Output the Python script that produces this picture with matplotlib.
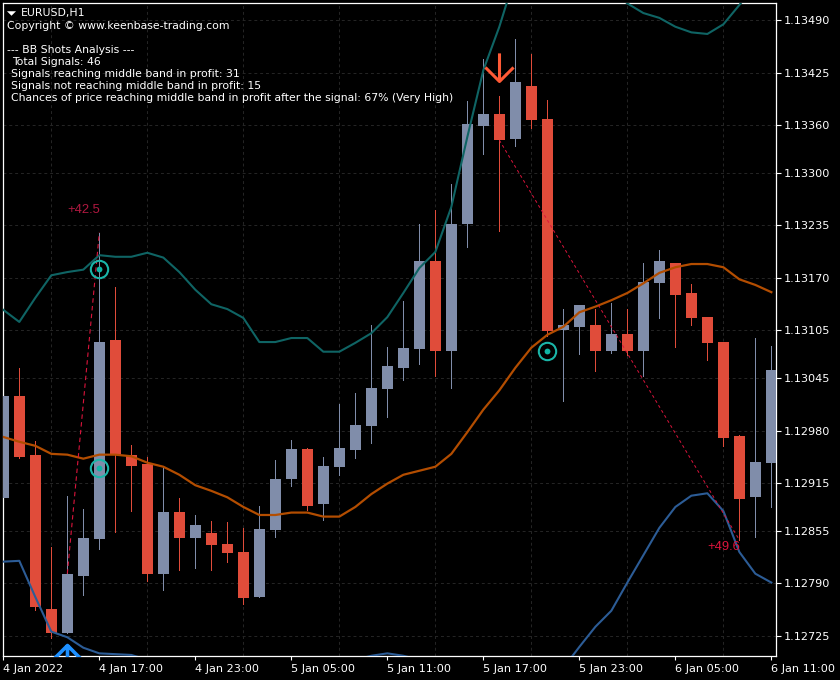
import numpy as np
import matplotlib
matplotlib.use("Agg")
import matplotlib.pyplot as plt
from matplotlib.path import Path

nan = float("nan")

opens = [112896,113023,112950,112758,112728,112799,112845,113093,112950,112938,112802,112879,112846,112853,112839,112829,112773,112856,112920,112957,112889,112935,112956,112986,113032,113058,113081,113191,113079,113237,113359,113374,113342,113408,113367,113105,113109,113111,113079,113100,113079,113163,113188,113151,113121,113090,112973,112897,112940]
closes = [113023,112947,112761,112728,112802,112846,113090,112950,112936,112802,112879,112846,112863,112838,112828,112772,112858,112920,112957,112886,112936,112958,112987,113033,113060,113083,113191,113079,113237,113361,113374,113341,113413,113366,113104,113111,113136,113079,113100,113079,113165,113191,113149,113120,113089,112971,112895,112941,113055]
highs = [113081,113058,112967,112835,112899,112883,113226,113158,112962,112947,112933,112896,112875,112868,112866,112859,112886,112943,112968,112958,112947,113013,113027,113111,113084,113141,113237,113254,113287,113390,113442,113396,113467,113448,113391,113131,113136,113131,113139,113131,113188,113204,113188,113162,113121,113090,112974,113095,113085]
lows = [112829,112946,112757,112722,112728,112776,112833,112854,112880,112793,112782,112807,112809,112807,112817,112764,112773,112848,112911,112881,112869,112925,112946,112965,112997,113043,113063,113048,113033,113208,113324,113228,113334,113356,113098,113017,113075,113054,113076,113074,113048,113120,113084,113111,113068,112961,112844,112848,112885]

upper_band = [113130,113115,113145,113173,113177,113180,113198,113196,113196,113201,113195,113177,113155,113137,113131,113120,113090,113090,113095,113095,113078,113078,113089,113101,113121,113151,113182,113202,113258,113345,113428,113482,113546,nan,nan,nan,nan,nan,113528,113511,113499,113493,113482,113475,113473,113485,113509,113534,113552]
middle_band = [112972,112966,112961,112951,112950,112945,112950,112950,112948,112940,112935,112925,112912,112905,112897,112885,112875,112875,112878,112878,112873,112873,112885,112901,112914,112925,112930,112935,112951,112978,113006,113030,113058,113083,113099,113109,113127,113134,113142,113151,113163,113176,113183,113187,113187,113183,113168,113161,113152]
lower_band = [112817,112818,112773,112730,112723,112710,112703,112702,112701,112695,nan,nan,nan,nan,nan,nan,nan,nan,nan,nan,nan,nan,112695,112700,112703,112700,112695,nan,nan,nan,nan,nan,nan,nan,nan,112685,112711,112736,112756,112791,112825,112859,112885,112899,112902,112880,112829,112802,112791]

y_ticks = [1.13490,1.13425,1.13360,1.13300,1.13235,1.13170,1.13105,1.13045,1.12980,1.12915,1.12855,1.12790,1.12725]
x_tick_bars = [0,6,12,18,24,30,36,42,48]
x_tick_labels = ["4 Jan 2022","4 Jan 17:00","4 Jan 23:00","5 Jan 05:00","5 Jan 11:00","5 Jan 17:00","5 Jan 23:00","6 Jan 05:00","6 Jan 11:00"]

info_lines = [
    ("Copyright \u00a9 www.keenbase-trading.com", 7, 26),
    ("--- BB Shots Analysis ---", 7, 50),
    ("Total Signals: 46", 12, 62),
    ("Signals reaching middle band in profit: 31", 11, 74),
    ("Signals not reaching middle band in profit: 15", 11, 86),
    ("Chances of price reaching middle band in profit after the signal: 67% (Very High)", 11, 98),
]

trade_buy_x = [4, 6]
trade_buy_y = [1.12802, 1.13226]
trade_sell_x = [31, 46]
trade_sell_y = [1.13341, 1.12844]
ring_x = [6, 6, 34]
ring_y = [1.13181, 1.12933, 1.13079]

GRAY = "#808DAA"
RED = "#E04C3A"
WIDTH, HEIGHT = 840, 680

def prices(values):
    return np.array(values, dtype=float) / 1e5

o, c, h, l = map(prices, (opens, closes, highs, lows))
bars = np.arange(len(o))
up = c >= o
colors = [GRAY if u else RED for u in up]

plt.rcParams["font.family"] = ["DejaVu Sans"]
fig = plt.figure(figsize=(WIDTH / 100, HEIGHT / 100), dpi=100, facecolor="black")
ax = fig.add_axes([3 / WIDTH, 1 - 656 / HEIGHT, 773 / WIDTH, 653 / HEIGHT], facecolor="black")

ax.vlines(bars, l, h, colors=colors, linewidth=0.45, antialiased=False, zorder=2)
ax.bar(bars, np.abs(c - o), bottom=np.minimum(o, c), width=0.6875, color=colors, linewidth=0, antialiased=False, zorder=3)

ax.plot(bars, prices(upper_band), color="#0F6464", lw=1.5, zorder=4)
ax.plot(bars, prices(middle_band), color="#B34D00", lw=1.6, zorder=4)
ax.plot(bars, prices(lower_band), color="#2C5C96", lw=1.5, zorder=4)

ax.plot(trade_buy_x, trade_buy_y, color="#DC143C", lw=0.8, ls=(0, (4, 3)), zorder=5)
ax.plot(trade_sell_x, trade_sell_y, color="#DC143C", lw=0.7, ls=(0, (3, 3)), zorder=5)

ax.plot(ring_x, ring_y, ls="none", marker="o", ms=12.5, mfc="none", mec="#1AB5A8", mew=1.5, zorder=6)
ax.plot(ring_x, ring_y, ls="none", marker="o", ms=4.2, mfc="#0FB5A5", mec="none", zorder=6)

down_arrow = Path([(-1, 1), (0, 0), (1, 1), (0, 0), (0, 2)],
                  [Path.MOVETO, Path.LINETO, Path.LINETO, Path.MOVETO, Path.LINETO])
up_arrow = Path([(-1, -1), (0, 0), (1, -1), (0, 0), (0, -2)],
                [Path.MOVETO, Path.LINETO, Path.LINETO, Path.MOVETO, Path.LINETO])
ax.plot([31], [1.13414], ls="none", marker=down_arrow, ms=40.5, mfc="none", mec="#FF5A36", mew=2.2, zorder=7)
ax.plot([4], [1.12713], ls="none", marker=up_arrow, ms=40.5, mfc="none", mec="#1E90FF", mew=2.6, zorder=7)

ax.text(5.0, 1.13254, "+42.5", color="#B01840", family="Liberation Sans", fontsize=9.4, va="center", ha="center", zorder=8)
ax.text(45.05, 1.12835, "+49.6", color="#DC143C", family="Liberation Sans", fontsize=9.4, va="center", ha="center", zorder=8)

ax.set_xlim(-0.02, 48.29)
ax.set_ylim(1.126997, 1.135115)

ax.set_yticks(y_ticks)
ax.set_yticklabels([f"{v:.5f}" for v in y_ticks])
ax.yaxis.tick_right()
ax.set_xticks(x_tick_bars)
ax.set_xticklabels(x_tick_labels, ha="left")
ax.set_xticks(np.arange(0, 49, 3), minor=True)
ax.tick_params(axis="x", which="minor", length=0)
ax.tick_params(axis="x", which="major", colors="white", length=3, width=0.8, pad=2.5, labelsize=8.1)
ax.tick_params(axis="y", which="major", colors="white", length=3.5, width=0.8, pad=2, labelsize=8.1)
ax.grid(True, which="major", axis="y", color="#262626", lw=0.7, ls=(0, (3, 3)), zorder=0)
ax.grid(True, which="minor", axis="x", color="#262626", lw=0.7, ls=(0, (3, 3)), zorder=0)
ax.set_axisbelow(True)
for side in ("top", "bottom", "left", "right"):
    ax.spines[side].set_color("white")
    ax.spines[side].set_linewidth(0.9)

fig.text(21 / WIDTH, 1 - 13 / HEIGHT, "EURUSD,H1", color="white", fontsize=7.85, va="center", ha="left")
menu_triangle = Path([(-1, 0.5), (1, 0.5), (0, -0.5), (-1, 0.5)])
ax.plot([7.5 / 773], [1 - 9.5 / 653], transform=ax.transAxes, marker=menu_triangle,
        ms=6.5, color="white", mec="none", clip_on=False, zorder=9)
for text, px, py in info_lines:
    fig.text(px / WIDTH, 1 - py / HEIGHT, text, color="white", fontsize=7.85, va="center", ha="left")

fig.savefig("out.png", dpi=100, facecolor="black")
